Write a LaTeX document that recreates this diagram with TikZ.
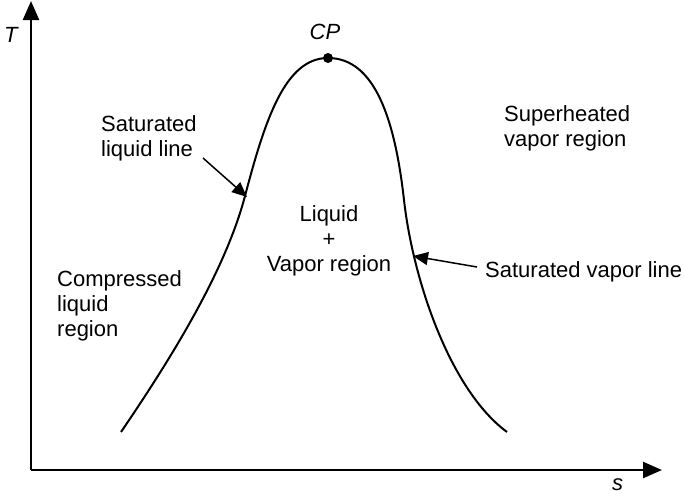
\documentclass[tikz,border=0pt]{standalone}
\usepackage{fontspec}
\setmainfont{Liberation Sans}
\usetikzlibrary{arrows.meta}
\begin{document}
\begin{tikzpicture}[x=1pt,y=-1pt,
  lbl/.style={font=\fontsize{22}{25}\selectfont, inner sep=0pt},
  axis/.style={line width=2.4pt, -{Triangle[length=19pt,width=16pt]}},
  dome/.style={line width=2pt},
  pointer/.style={line width=1.5pt, -{Triangle[length=15pt,width=13pt]}}]
\useasboundingbox (0,0) rectangle (685,498);
% axes
\coordinate (O) at (31,470);
\coordinate (Ttip) at (31,1);
\coordinate (Stip) at (662,470);
\draw[axis] (O) -- (Ttip);
\draw[axis] (O) -- (Stip);
\node[lbl, anchor=base west, font=\fontsize{22}{25}\selectfont\itshape] (Tlab) at (4,42) {T};
\node[lbl, anchor=base west, font=\fontsize{22}{25}\selectfont\itshape] (slab) at (612,490) {s};
% dome
\coordinate (A) at (121,432);
\coordinate (SL) at (245,196);
\coordinate (CP) at (328,58);
\coordinate (M) at (404,200);
\coordinate (B) at (507,432);
\draw[dome] (A) .. controls (170,360) and (225,272) .. (SL)
  .. controls (265,120) and (285,58) .. (CP)
  .. controls (375,58) and (395,120) .. (M)
  .. controls (413,280) and (450,390) .. (B);
\fill (CP) circle (5pt);
\node[lbl, anchor=base, font=\fontsize{22}{25}\selectfont\itshape] (cplab) at (325,39) {CP};
% labels
\node[lbl, anchor=north west, align=left] (sll) at (101,115) {Saturated\\liquid line};
\node[lbl, anchor=base west] (svl) at (485,277) {Saturated vapor line};
\node[lbl, anchor=north, align=center] (lv) at (329,205) {Liquid\\+\\Vapor region};
\node[lbl, anchor=north west, align=left] (cl) at (57,270) {Compressed\\liquid\\region};
\node[lbl, anchor=north west, align=left] (sh) at (504,105) {Superheated\\vapor region};
% pointers
\coordinate (p1s) at (203,158);
\coordinate (p1e) at (247,197);
\coordinate (p2s) at (477,267);
\coordinate (p2e) at (413,256);
\draw[pointer] (p1s) -- (p1e);
\draw[pointer] (p2s) -- (p2e);
\end{tikzpicture}
\end{document}
